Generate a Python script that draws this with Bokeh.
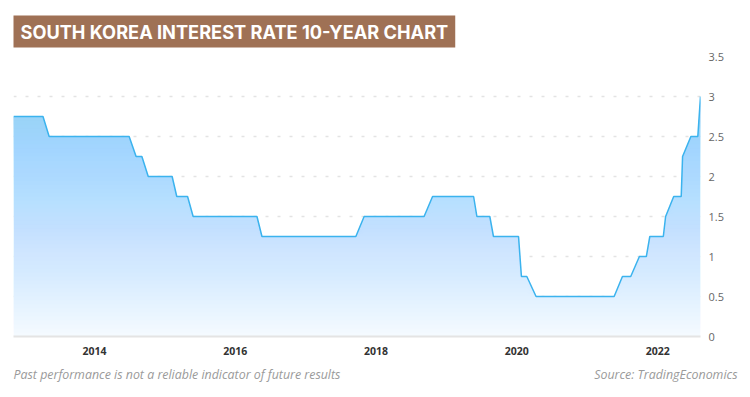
import numpy as np
import pandas as pd
from bokeh.plotting import figure
from bokeh.layouts import column
from bokeh.models import Range1d, FixedTicker, Label, DatetimeTickFormatter
from bokeh.embed import file_html
from bokeh.resources import INLINE

# ---- data (vertices of the step line) ----
dates = [
    "2012-11-07", "2013-04-09", "2013-05-11", "2014-06-30", "2014-08-05",
    "2014-09-04", "2014-10-07", "2015-02-08", "2015-03-04", "2015-04-29",
    "2015-05-28", "2016-04-23", "2016-05-19", "2017-09-18", "2017-10-31",
    "2018-09-07", "2018-10-21", "2019-05-22", "2019-06-08", "2019-08-14",
    "2019-09-02", "2020-01-10", "2020-01-25", "2020-02-22", "2020-04-10",
    "2021-05-20", "2021-07-02", "2021-08-14", "2021-09-28", "2021-11-03",
    "2021-11-21", "2022-01-30", "2022-02-11", "2022-03-25", "2022-05-03",
    "2022-05-10", "2022-06-22", "2022-07-28", "2022-08-11",
]
rates = [
    2.75, 2.75, 2.5, 2.5, 2.25,
    2.25, 2.0, 2.0, 1.75, 1.75,
    1.5, 1.5, 1.25, 1.25, 1.5,
    1.5, 1.75, 1.75, 1.5, 1.5,
    1.25, 1.25, 0.75, 0.75, 0.5,
    0.5, 0.75, 0.75, 1.0, 1.0,
    1.25, 1.25, 1.5, 1.75, 1.75,
    2.25, 2.5, 2.5, 3.0,
]
x_tick_years = ["2014", "2016", "2018", "2020", "2022"]
y_ticks = [0, 0.5, 1, 1.5, 2, 2.5, 3, 3.5]

title_text = "SOUTH KOREA INTEREST RATE 10-YEAR CHART"
note_left = "Past performance is not a reliable indicator of future results"
note_right = "Source: TradingEconomics"

# ---- main figure ----
x = pd.to_datetime(dates)
xv = np.array(rates, dtype=float)
x_ms = (x - pd.Timestamp("1970-01-01")) // pd.Timedelta(milliseconds=1)
x_ms = np.asarray(x_ms, dtype=float)

W, H1, H2 = 742, 360, 29
p = figure(width=W, height=H1, x_axis_type="datetime", y_axis_location="right",
           output_backend="svg", toolbar_location=None,
           x_range=Range1d(x_ms[0], x_ms[-1]), y_range=Range1d(0, 3.5),
           min_border_left=13, min_border_right=W - 700, min_border_top=56,
           min_border_bottom=H1 - 336)
p.outline_line_color = None
p.background_fill_color = "white"
p.border_fill_color = "white"

# gradient area: base + stacked translucent layers (darker towards top)
base = (246, 251, 255)
p.varea(x=x_ms, y1=np.zeros_like(xv), y2=xv, fill_color="#%02x%02x%02x" % base)
N = 60
top = xv.max()
prev = 0.0
for k in range(N):
    h = top * k / N
    O = (k + 1) / N
    a = 1 - (1 - O) / (1 - prev) if prev < 1 else 1.0
    prev = O
    p.varea(x=x_ms, y1=np.minimum(xv, h), y2=xv, fill_color="#97d7f8",
            fill_alpha=min(max(a, 0.0), 1.0))

p.line(x_ms, xv, line_color="#3bb3ee", line_width=1.5)

# axes
tick_ms = [float((pd.Timestamp(y + "-01-01") - pd.Timestamp("1970-01-01")) // pd.Timedelta(milliseconds=1))
           for y in x_tick_years]
p.xaxis.ticker = FixedTicker(ticks=tick_ms)
p.xaxis.formatter = DatetimeTickFormatter(years="%Y", months="%Y", days="%Y", hours="%Y",
                                          minutes="%Y", seconds="%Y", milliseconds="%Y")
p.xaxis.axis_line_color = "#e4e4e4"
p.xaxis.axis_line_width = 2
p.xaxis.major_tick_line_color = None
p.xaxis.minor_tick_line_color = None
p.xaxis.major_label_text_font = "Open Sans"
p.xaxis.major_label_text_font_style = "bold"
p.xaxis.major_label_text_font_size = "10.5px"
p.xaxis.major_label_text_color = "#333333"
p.xaxis.major_label_standoff = 4

p.yaxis.ticker = FixedTicker(ticks=y_ticks)
p.yaxis.axis_line_color = None
p.yaxis.major_tick_line_color = None
p.yaxis.minor_tick_line_color = None
p.yaxis.major_label_text_font = "Open Sans"
p.yaxis.major_label_text_font_size = "11px"
p.yaxis.major_label_text_color = "#666666"
p.yaxis.major_label_standoff = 2

p.xgrid.grid_line_color = None
p.ygrid.grid_line_color = "#e3e3e3"
p.ygrid.grid_line_width = 1.5
p.ygrid.grid_line_dash = "3 9"

# title banner
p.title.text = title_text
p.title.align = "left"
p.title.text_font = "Inter"
p.title.text_font_style = "bold"
p.title.text_font_size = "18.2px"
p.title.text_color = "white"
p.title.background_fill_color = "#9f7155"
p.title.padding = (7, 5)
p.title.standoff = 18

# ---- footer strip ----
f = figure(width=W, height=H2, output_backend="svg", toolbar_location=None,
           x_range=Range1d(0, W), y_range=Range1d(0, H2),
           x_axis_location=None, y_axis_location=None, min_border=0)
f.outline_line_color = None
f.xgrid.grid_line_color = None
f.ygrid.grid_line_color = None
f.background_fill_color = "white"
f.border_fill_color = "white"
f.add_layout(Label(x=13, y=H2 - 14, text_baseline="middle", text_align="left",
                   text=note_left, text_font="Open Sans", text_font_style="italic",
                   text_font_size="12.4px", text_color="#9a9a9a"))
f.add_layout(Label(x=737, y=H2 - 14, text_baseline="middle", text_align="right",
                   text=note_right, text_font="Open Sans", text_font_style="italic",
                   text_font_size="12.4px", text_color="#9a9a9a"))

for fig in (p, f):
    if "frame_align" in fig.properties():
        fig.frame_align = False

layout = column(p, f, spacing=0)
open("out.html", "w").write(file_html(layout, INLINE))
